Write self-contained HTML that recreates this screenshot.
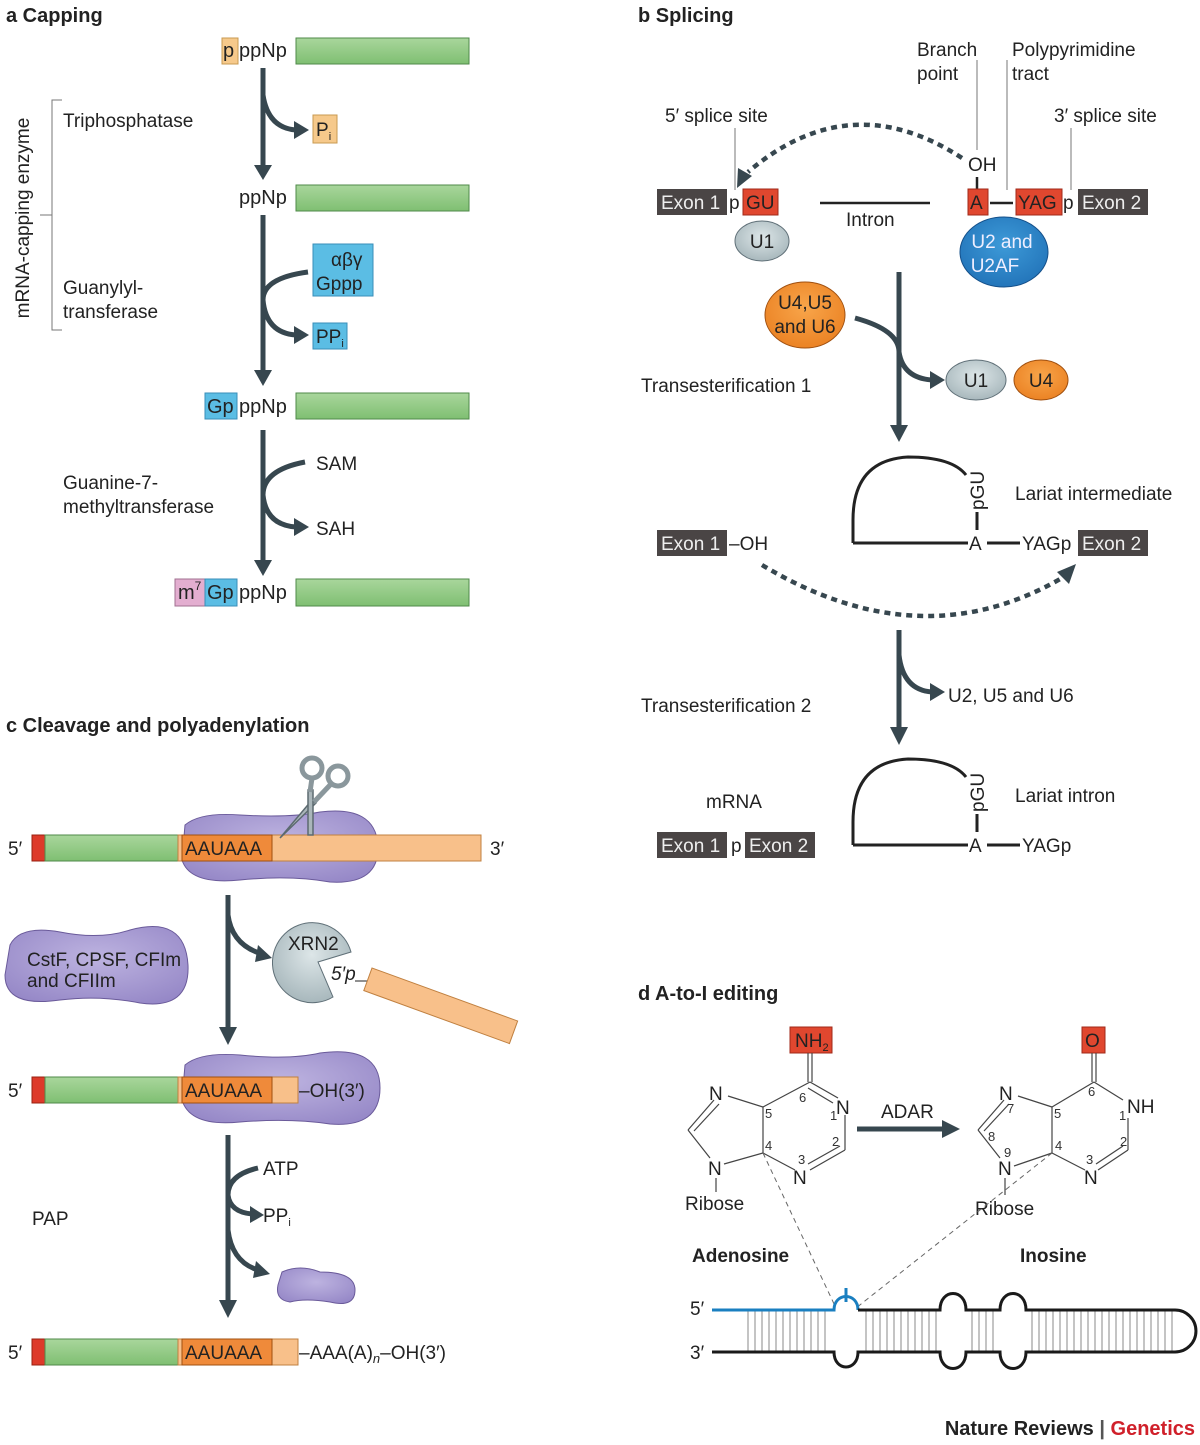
<!DOCTYPE html>
<html><head><meta charset="utf-8"><style>
html,body{margin:0;padding:0;background:#fff;}
svg{display:block;font-family:"Liberation Sans",sans-serif;}
</style></head><body>
<svg width="1200" height="1445" viewBox="0 0 1200 1445" xmlns="http://www.w3.org/2000/svg">
<defs>
<linearGradient id="gr" x1="0" y1="0" x2="0" y2="1"><stop offset="0" stop-color="#a9d69c"/><stop offset="1" stop-color="#7fbf72"/></linearGradient>
<radialGradient id="pu" cx="0.5" cy="0.4" r="0.7"><stop offset="0" stop-color="#bdb3e0"/><stop offset="1" stop-color="#9486c6"/></radialGradient>
<radialGradient id="gy" cx="0.5" cy="0.4" r="0.7"><stop offset="0" stop-color="#dde6e8"/><stop offset="1" stop-color="#9fb0b5"/></radialGradient>
<radialGradient id="or" cx="0.5" cy="0.4" r="0.7"><stop offset="0" stop-color="#f8a54a"/><stop offset="1" stop-color="#e97d1e"/></radialGradient>
<radialGradient id="bl" cx="0.5" cy="0.4" r="0.7"><stop offset="0" stop-color="#3d9ad8"/><stop offset="1" stop-color="#1f6fb5"/></radialGradient>
</defs>
<g font-size="19" fill="#222">
<!-- Panel a -->
<text x="6" y="22" font-weight="bold" font-size="20">a  Capping</text>
<rect x="222" y="38" width="16" height="26" fill="#f6c98b" stroke="#c89a50"/>
<text x="223" y="57" font-size="20">p</text><text x="239" y="57" font-size="20">ppNp</text>
<rect x="296" y="38" width="173" height="26" fill="url(#gr)" stroke="#4f8a4a"/>
<text x="239" y="204" font-size="20">ppNp</text>
<rect x="296" y="185" width="173" height="26" fill="url(#gr)" stroke="#4f8a4a"/>
<rect x="205" y="393" width="32" height="26" fill="#5bbde4" stroke="#3a8eb8"/>
<text x="207" y="413" font-size="20">Gp</text><text x="239" y="413" font-size="20">ppNp</text>
<rect x="296" y="393" width="173" height="26" fill="url(#gr)" stroke="#4f8a4a"/>
<rect x="175" y="579" width="30" height="27" fill="#e3aed0" stroke="#a07090"/>
<rect x="205" y="579" width="32" height="27" fill="#5bbde4" stroke="#3a8eb8"/>
<text x="178" y="599" font-size="20">m<tspan font-size="12" dy="-9">7</tspan></text>
<text x="207" y="599" font-size="20">Gp</text><text x="239" y="599" font-size="20">ppNp</text>
<rect x="296" y="579" width="173" height="27" fill="url(#gr)" stroke="#4f8a4a"/>
<g stroke="#37474f" stroke-width="5" fill="none">
<line x1="263" y1="68" x2="263" y2="168"/>
<line x1="263" y1="215" x2="263" y2="372"/>
<line x1="263" y1="430" x2="263" y2="562"/>
<path d="M263,95 Q268,128 296,130"/>
<path d="M308,272 Q263,278 263,300 Q266,333 296,335"/>
<path d="M305,462 Q263,470 263,495 Q266,525 296,527"/>
</g>
<g fill="#37474f">
<polygon points="254,165 272,165 263,180"/>
<polygon points="254,370 272,370 263,386"/>
<polygon points="254,560 272,560 263,576"/>
<polygon points="294,121 309,130 294,139"/>
<polygon points="294,326 309,335 294,344"/>
<polygon points="294,518 309,527 294,536"/>
</g>
<rect x="313" y="115" width="24" height="28" fill="#f6c98b" stroke="#c89a50"/>
<text x="316" y="136">P<tspan font-size="11" dy="4">i</tspan></text>
<rect x="313" y="244" width="60" height="52" fill="#5bbde4" stroke="#3a8eb8"/>
<text x="331" y="266">αβγ</text><text x="316" y="290">Gppp</text>
<rect x="313" y="323" width="34" height="26" fill="#5bbde4" stroke="#3a8eb8"/>
<text x="316" y="343">PP<tspan font-size="11" dy="4">i</tspan></text>
<text x="316" y="470">SAM</text><text x="316" y="535">SAH</text>
<g stroke="#777" stroke-width="1" fill="none"><polyline points="62,100 52,100 52,330 62,330"/><line x1="40" y1="215" x2="52" y2="215"/></g>
<text transform="translate(29,218) rotate(-90)" text-anchor="middle">mRNA-capping enzyme</text>
<text x="63" y="127">Triphosphatase</text>
<text x="63" y="294">Guanylyl-</text><text x="63" y="318">transferase</text>
<text x="63" y="489">Guanine-7-</text><text x="63" y="513">methyltransferase</text>

<!-- Panel b -->
<text x="638" y="22" font-weight="bold" font-size="20">b  Splicing</text>
<text x="917" y="56">Branch</text><text x="917" y="80">point</text>
<text x="1012" y="56">Polypyrimidine</text><text x="1012" y="80">tract</text>
<text x="665" y="122">5′ splice site</text><text x="1054" y="122">3′ splice site</text>
<g stroke="#777" stroke-width="1"><line x1="977" y1="60" x2="977" y2="150"/><line x1="1007" y1="60" x2="1007" y2="190"/><line x1="735" y1="128" x2="735" y2="190"/><line x1="1071" y1="128" x2="1071" y2="190"/></g>
<text x="968" y="171">OH</text>
<line x1="977" y1="177" x2="977" y2="190" stroke="#222" stroke-width="2.5"/>
<path d="M962,158 Q850,85 748,172" stroke="#37474f" stroke-width="4.5" fill="none" stroke-dasharray="6 5"/>
<polygon points="737,188 738,168 752,176" fill="#37474f"/>
<rect x="657" y="189" width="70" height="26" fill="#4a4545"/><text x="661" y="209" fill="#eee">Exon 1</text>
<text x="729" y="209">p</text>
<rect x="743" y="189" width="35" height="26" fill="#e0472f" stroke="#a02a1a"/><text x="746" y="209">GU</text>
<line x1="820" y1="203" x2="930" y2="203" stroke="#222" stroke-width="2.5"/>
<text x="846" y="226">Intron</text>
<rect x="968" y="189" width="20" height="26" fill="#e0472f" stroke="#a02a1a"/><text x="970" y="209">A</text>
<line x1="990" y1="203" x2="1013" y2="203" stroke="#222" stroke-width="2.5"/>
<rect x="1016" y="189" width="46" height="26" fill="#e0472f" stroke="#a02a1a"/><text x="1018" y="209">YAG</text>
<text x="1063" y="209">p</text>
<rect x="1078" y="189" width="70" height="26" fill="#4a4545"/><text x="1082" y="209" fill="#eee">Exon 2</text>
<ellipse cx="762" cy="241" rx="27" ry="20" fill="url(#gy)" stroke="#607078"/><text x="762" y="248" text-anchor="middle">U1</text>
<ellipse cx="1004" cy="252" rx="44" ry="35" fill="url(#bl)" stroke="#15508a"/>
<text x="1002" y="248" text-anchor="middle" fill="#eef">U2 and</text><text x="995" y="272" text-anchor="middle" fill="#eef">U2AF</text>
<g stroke="#37474f" stroke-width="5" fill="none">
<line x1="899" y1="272" x2="899" y2="428"/>
<path d="M855,318 Q899,330 899,352 Q903,378 932,380"/>
<line x1="899" y1="630" x2="899" y2="730"/>
<path d="M899,655 Q903,690 932,692"/>
</g>
<g fill="#37474f">
<polygon points="890,425 908,425 899,442"/>
<polygon points="930,371 945,380 930,389"/>
<polygon points="890,727 908,727 899,745"/>
<polygon points="930,683 945,692 930,701"/>
</g>
<ellipse cx="805" cy="315" rx="40" ry="33" fill="url(#or)" stroke="#a05010"/>
<text x="805" y="309" text-anchor="middle">U4,U5</text><text x="805" y="333" text-anchor="middle">and U6</text>
<ellipse cx="976" cy="380" rx="30" ry="20" fill="url(#gy)" stroke="#607078"/><text x="976" y="387" text-anchor="middle">U1</text>
<ellipse cx="1041" cy="380" rx="27" ry="20" fill="url(#or)" stroke="#a05010"/><text x="1041" y="387" text-anchor="middle">U4</text>
<text x="641" y="392">Transesterification 1</text>
<g stroke="#222" stroke-width="3" fill="none">
<path d="M853,543 L853,520 Q853,460 908,457 Q952,457 966,475"/>
<line x1="853" y1="543" x2="968" y2="543"/>
<line x1="977" y1="512" x2="977" y2="530"/>
<line x1="987" y1="543" x2="1020" y2="543"/>
<path d="M853,845 L853,822 Q853,762 908,759 Q952,759 966,777"/>
<line x1="853" y1="845" x2="968" y2="845"/>
<line x1="977" y1="814" x2="977" y2="832"/>
<line x1="987" y1="845" x2="1020" y2="845"/>
</g>
<text transform="translate(984,510) rotate(-90)">pGU</text>
<text transform="translate(984,812) rotate(-90)">pGU</text>
<text x="969" y="550">A</text><text x="1022" y="550">YAGp</text>
<text x="969" y="852">A</text><text x="1022" y="852">YAGp</text>
<rect x="1078" y="530" width="70" height="26" fill="#4a4545"/><text x="1082" y="550" fill="#eee">Exon 2</text>
<text x="1015" y="500">Lariat intermediate</text>
<rect x="657" y="530" width="70" height="26" fill="#4a4545"/><text x="661" y="550" fill="#eee">Exon 1</text>
<text x="729" y="550">–OH</text>
<path d="M762,565 Q920,660 1062,578" stroke="#37474f" stroke-width="4.5" fill="none" stroke-dasharray="6 5"/>
<polygon points="1076,564 1069,584 1057,572" fill="#37474f"/>
<text x="948" y="702">U2, U5 and U6</text>
<text x="641" y="712">Transesterification 2</text>
<text x="706" y="808">mRNA</text>
<rect x="657" y="832" width="70" height="26" fill="#4a4545"/><text x="661" y="852" fill="#eee">Exon 1</text>
<text x="731" y="852">p</text>
<rect x="745" y="832" width="70" height="26" fill="#4a4545"/><text x="749" y="852" fill="#eee">Exon 2</text>
<text x="1015" y="802">Lariat intron</text>

<!-- Panel c -->
<text x="6" y="732" font-weight="bold" font-size="20">c  Cleavage and polyadenylation</text>
<path d="M185,825 Q200,812 240,815 Q290,818 320,812 Q375,805 378,845 Q380,885 330,882 Q290,875 240,880 Q190,885 182,860 Z" fill="url(#pu)" stroke="#6a5a9a"/>
<rect x="32" y="835" width="13" height="26" fill="#dd3a2a" stroke="#992010"/>
<rect x="45" y="835" width="133" height="26" fill="url(#gr)" stroke="#4f8a4a"/>
<rect x="178" y="835" width="303" height="26" fill="#f8c08a" stroke="#c08040"/>
<rect x="182" y="835" width="90" height="26" fill="#ef8a3a" stroke="#a05010"/>
<text x="185" y="855">AAUAAA</text>
<text x="8" y="855">5′</text><text x="490" y="855">3′</text>
<g stroke="#5c6a70" stroke-width="1.5" fill="#aab6ba">
<path d="M280,838 L312,800 L316,803 Z"/>
<rect x="308" y="790" width="5" height="45"/>
<circle cx="312" cy="768" r="10" fill="none" stroke="#8a979c" stroke-width="5"/>
<circle cx="338" cy="776" r="10" fill="none" stroke="#8a979c" stroke-width="5"/>
<line x1="312" y1="778" x2="310" y2="792" stroke="#8a979c" stroke-width="5"/>
<line x1="331" y1="784" x2="314" y2="802" stroke="#8a979c" stroke-width="5"/>
</g>
<g stroke="#37474f" stroke-width="5" fill="none">
<line x1="228" y1="895" x2="228" y2="1030"/>
<path d="M228,915 Q232,945 262,954"/>
<line x1="228" y1="1135" x2="228" y2="1303"/>
<path d="M258,1168 Q228,1175 228,1195 Q230,1212 252,1214"/>
<path d="M228,1230 Q232,1262 258,1270"/>
</g>
<g fill="#37474f">
<polygon points="219,1027 237,1027 228,1045"/>
<polygon points="258,945 272,958 255,962"/>
<polygon points="219,1300 237,1300 228,1318"/>
<polygon points="250,1206 264,1215 250,1223"/>
<polygon points="256,1261 270,1274 253,1278"/>
</g>
<path d="M10,945 Q20,925 60,932 Q100,940 130,930 Q185,915 188,965 Q190,1010 140,1003 Q100,995 60,1000 Q5,1008 5,975 Z" fill="url(#pu)" stroke="#6a5a9a"/>
<text x="27" y="966">CstF, CPSF, CFIm</text><text x="27" y="987">and CFIIm</text>
<path d="M333,997 A40,40 0 1 1 351,952 L318,962 Z" fill="url(#gy)" stroke="#607078"/>
<text x="288" y="950">XRN2</text>
<text x="331" y="980" font-style="italic">5′p</text>
<line x1="355" y1="981" x2="367" y2="981" stroke="#222" stroke-width="1"/>
<rect x="0" y="0" width="155" height="24" fill="#f8c08a" stroke="#c08040" transform="translate(372,968) rotate(20)"/>
<path d="M185,1065 Q200,1052 240,1055 Q290,1060 320,1053 Q380,1045 380,1088 Q380,1128 330,1124 Q290,1118 240,1122 Q190,1127 182,1100 Z" fill="url(#pu)" stroke="#6a5a9a"/>
<rect x="32" y="1077" width="13" height="26" fill="#dd3a2a" stroke="#992010"/>
<rect x="45" y="1077" width="133" height="26" fill="url(#gr)" stroke="#4f8a4a"/>
<rect x="178" y="1077" width="120" height="26" fill="#f8c08a" stroke="#c08040"/>
<rect x="182" y="1077" width="90" height="26" fill="#ef8a3a" stroke="#a05010"/>
<text x="185" y="1097">AAUAAA</text><text x="8" y="1097">5′</text><text x="299" y="1097">–OH(3′)</text>
<text x="263" y="1175">ATP</text>
<text x="263" y="1222">PP<tspan font-size="11" dy="4">i</tspan></text>
<path d="M282,1272 Q300,1264 320,1272 Q355,1272 355,1290 Q355,1308 330,1302 Q305,1298 290,1302 Q275,1300 278,1285 Z" fill="url(#pu)" stroke="#6a5a9a"/>
<text x="32" y="1225">PAP</text>
<rect x="32" y="1339" width="13" height="26" fill="#dd3a2a" stroke="#992010"/>
<rect x="45" y="1339" width="133" height="26" fill="url(#gr)" stroke="#4f8a4a"/>
<rect x="178" y="1339" width="120" height="26" fill="#f8c08a" stroke="#c08040"/>
<rect x="182" y="1339" width="90" height="26" fill="#ef8a3a" stroke="#a05010"/>
<text x="185" y="1359">AAUAAA</text><text x="8" y="1359">5′</text>
<text x="299" y="1359">–AAA(A)<tspan font-style="italic" font-size="13" dy="4">n</tspan><tspan dy="-4">–OH(3′)</tspan></text>

<!-- Panel d -->
<text x="638" y="1000" font-weight="bold" font-size="20">d  A-to-I editing</text>
<rect x="790" y="1027" width="42" height="26" fill="#e0472f" stroke="#a02a1a"/>
<text x="795" y="1047">NH<tspan font-size="11" dy="4">2</tspan></text>
<rect x="1082" y="1027" width="23" height="26" fill="#e0472f" stroke="#a02a1a"/>
<text x="1085" y="1047">O</text>
<g stroke="#444" stroke-width="1.2" fill="none">
<line x1="808" y1="1053" x2="808" y2="1082"/><line x1="812" y1="1053" x2="812" y2="1082"/>
<line x1="810" y1="1082" x2="838" y2="1098"/><line x1="808" y1="1088" x2="833" y2="1103"/>
<line x1="845" y1="1115" x2="845" y2="1150"/>
<line x1="845" y1="1150" x2="810" y2="1170"/><line x1="840" y1="1146" x2="808" y2="1164"/>
<line x1="795" y1="1170" x2="763" y2="1153"/>
<line x1="763" y1="1153" x2="763" y2="1107"/>
<line x1="763" y1="1107" x2="810" y2="1082"/>
<line x1="763" y1="1107" x2="728" y2="1096"/>
<line x1="714" y1="1100" x2="688" y2="1130"/><line x1="719" y1="1104" x2="694" y2="1131"/>
<line x1="688" y1="1130" x2="710" y2="1158"/>
<line x1="724" y1="1164" x2="763" y2="1153"/>
<line x1="716" y1="1178" x2="716" y2="1192"/>
<line x1="1092" y1="1053" x2="1092" y2="1082"/><line x1="1096" y1="1053" x2="1096" y2="1082"/>
<line x1="1094" y1="1082" x2="1123" y2="1100"/>
<line x1="1128" y1="1118" x2="1128" y2="1150"/>
<line x1="1128" y1="1150" x2="1098" y2="1170"/><line x1="1123" y1="1146" x2="1096" y2="1164"/>
<line x1="1085" y1="1170" x2="1052" y2="1153"/>
<line x1="1052" y1="1153" x2="1052" y2="1107"/>
<line x1="1052" y1="1107" x2="1094" y2="1082"/>
<line x1="1052" y1="1107" x2="1018" y2="1096"/>
<line x1="1004" y1="1100" x2="978" y2="1130"/><line x1="1009" y1="1104" x2="984" y2="1131"/>
<line x1="978" y1="1130" x2="1000" y2="1158"/>
<line x1="1014" y1="1166" x2="1052" y2="1153"/>
<line x1="1005" y1="1178" x2="1005" y2="1195"/>
</g>
<g font-size="19">
<text x="836" y="1114">N</text><text x="793" y="1184">N</text><text x="709" y="1100">N</text><text x="708" y="1175">N</text>
<text x="685" y="1210">Ribose</text>
<text x="1127" y="1113">NH</text><text x="1084" y="1184">N</text><text x="999" y="1100">N</text><text x="998" y="1175">N</text>
<text x="975" y="1215">Ribose</text>
</g>
<g font-size="13" fill="#333">
<text x="799" y="1102">6</text><text x="765" y="1118">5</text><text x="830" y="1120">1</text><text x="832" y="1146">2</text><text x="765" y="1150">4</text><text x="798" y="1164">3</text>
<text x="1088" y="1096">6</text><text x="1054" y="1118">5</text><text x="1119" y="1120">1</text><text x="1120" y="1146">2</text><text x="1055" y="1150">4</text><text x="1086" y="1164">3</text>
<text x="1007" y="1113">7</text><text x="988" y="1141">8</text><text x="1004" y="1157">9</text>
</g>
<line x1="857" y1="1129" x2="945" y2="1129" stroke="#37474f" stroke-width="5"/>
<polygon points="942,1120 960,1129 942,1138" fill="#37474f"/>
<text x="881" y="1118">ADAR</text>
<text x="692" y="1262" font-weight="bold">Adenosine</text>
<text x="1020" y="1262" font-weight="bold">Inosine</text>
<g stroke="#666" stroke-width="1" stroke-dasharray="5 4"><line x1="763" y1="1153" x2="835" y2="1306"/><line x1="1052" y1="1153" x2="856" y2="1308"/></g>
<g stroke="#888" stroke-width="1">
<path d="M748,1310 V1352 M755,1310 V1352 M762,1310 V1352 M769,1310 V1352 M776,1310 V1352 M783,1310 V1352 M790,1310 V1352 M797,1310 V1352 M804,1310 V1352 M811,1310 V1352 M818,1310 V1352 M825,1310 V1352
M866,1310 V1352 M873,1310 V1352 M880,1310 V1352 M887,1310 V1352 M894,1310 V1352 M901,1310 V1352 M908,1310 V1352 M915,1310 V1352 M922,1310 V1352 M929,1310 V1352 M936,1310 V1352
M972,1310 V1352 M979,1310 V1352 M986,1310 V1352 M993,1310 V1352
M1032,1310 V1352 M1039,1310 V1352 M1046,1310 V1352 M1053,1310 V1352 M1060,1310 V1352 M1067,1310 V1352 M1074,1310 V1352 M1081,1310 V1352 M1088,1310 V1352 M1095,1310 V1352 M1102,1310 V1352 M1109,1310 V1352 M1116,1310 V1352 M1123,1310 V1352 M1130,1310 V1352 M1137,1310 V1352 M1144,1310 V1352 M1151,1310 V1352 M1158,1310 V1352 M1165,1310 V1352 M1172,1310 V1352"/>
</g>
<path d="M712,1310 H834 C834,1292 858,1292 858,1310" stroke="#1a7fc0" stroke-width="3" fill="none"/>
<line x1="846" y1="1288" x2="846" y2="1302" stroke="#1a7fc0" stroke-width="3"/>
<path d="M858,1310 H940 C940,1288 966,1288 966,1310 H1000 C1000,1288 1026,1288 1026,1310 H1175 A21,21 0 0 1 1175,1352 H1026 C1026,1374 1000,1374 1000,1352 H966 C966,1374 940,1374 940,1352 H858 C858,1372 834,1372 834,1352 H712" stroke="#1a1a1a" stroke-width="3" fill="none"/>
<text x="690" y="1315">5′</text><text x="690" y="1359">3′</text>
<text x="1195" y="1435" text-anchor="end" font-weight="bold" font-size="20"><tspan fill="#222">Nature Reviews</tspan><tspan fill="#555"> | </tspan><tspan fill="#d0202a">Genetics</tspan></text>
</g>
</svg>
</body></html>
